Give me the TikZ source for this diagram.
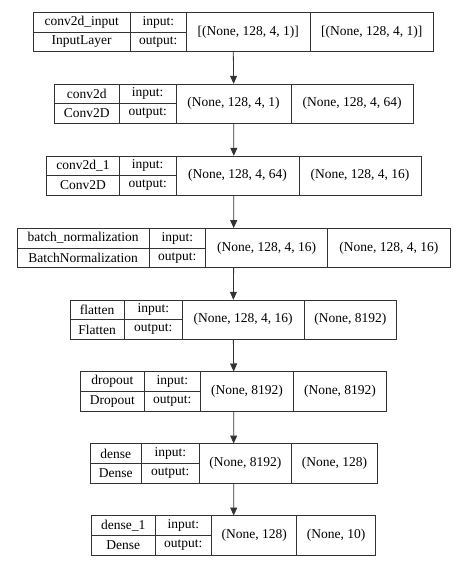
\documentclass[tikz,border=0pt]{standalone}
\usepackage{fontspec}
\setmainfont{Liberation Serif}
\usetikzlibrary{positioning,fit,arrows.meta}

\tikzset{
  cell/.style={draw=black!80, line width=.8pt, outer sep=0pt, inner sep=0pt,
    minimum height=19.7pt, font=\fontsize{13.5}{15}\selectfont},
  tallcell/.style={cell, minimum height=39.4pt},
  flow/.style={draw=black!80, line width=.8pt, -{Triangle[length=8pt,width=7pt]}}
}

\begin{document}
\begin{tikzpicture}[x=1pt, y=-1pt]

    % Page frame
    \useasboundingbox (0,0) rectangle (474,568);

    % Layers: id / left / top / four widths / name / class / input shape / output shape
    \foreach \id/\x/\y/\wname/\wio/\wshin/\wshout/\lname/\lkind/\shin/\shout in {
        l0/33.3/12.3/96.7/56.7/123.3/123.3/conv2d\_input/InputLayer/{[(None, 128, 4, 1)]}/{[(None, 128, 4, 1)]},
        l1/54/84/65.3/56.7/115/122.3/conv2d/Conv2D/{(None, 128, 4, 1)}/{(None, 128, 4, 64)},
        l2/46.7/156/72.6/56.7/123/122/conv2d\_1/Conv2D/{(None, 128, 4, 64)}/{(None, 128, 4, 16)},
        l3/17.3/228.3/131.7/56.7/122/122.3/batch\_normalization/BatchNormalization/{(None, 128, 4, 16)}/{(None, 128, 4, 16)},
        l4/70/300/54.3/58/121.7/92.7/flatten/Flatten/{(None, 128, 4, 16)}/{(None, 8192)},
        l5/80.7/371.7/63.3/56.7/92.6/93.4/dropout/Dropout/{(None, 8192)}/{(None, 8192)},
        l6/90/443.7/51.7/57.3/92.7/85.6/dense/Dense/{(None, 8192)}/{(None, 128)},
        l7/91.7/515.7/63.3/56.7/85/79/dense\_1/Dense/{(None, 128)}/{(None, 10)}}
    {
        \node[cell, minimum width=\wname pt, anchor=north west] (\id-name) at (\x,\y) {\lname};
        \node[cell, minimum width=\wname pt, below=0pt of \id-name] (\id-kind) {\lkind};
        \node[cell, minimum width=\wio pt, right=0pt of \id-name] (\id-in) {input:};
        \node[cell, minimum width=\wio pt, below=0pt of \id-in] (\id-out) {output:};
        \node[tallcell, minimum width=\wshin pt, anchor=north west] (\id-shin) at (\id-in.north east) {\shin};
        \node[tallcell, minimum width=\wshout pt, anchor=north west] (\id-shout) at (\id-shin.north east) {\shout};
        \node[fit=(\id-name)(\id-shout), inner sep=0pt] (\id) {};
    }

    % Connectors
    \foreach \a/\b in {l0/l1, l1/l2, l2/l3, l3/l4, l4/l5, l5/l6, l6/l7}
        \draw[flow] (\a.south) -- (\b.north);

\end{tikzpicture}
\end{document}
